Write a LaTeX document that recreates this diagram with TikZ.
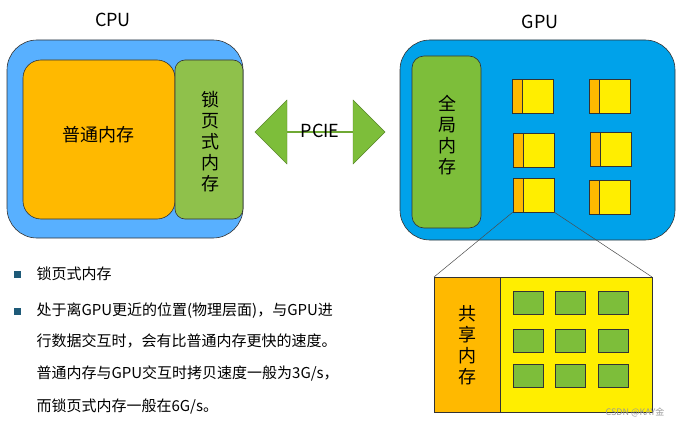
\documentclass[tikz,border=0pt]{standalone}
\usepackage{fontspec}
\setmainfont{Noto Sans CJK SC}
\usetikzlibrary{shapes.arrows}
\definecolor{cpublue}{HTML}{58B0FF}
\definecolor{gpublue}{HTML}{00A2EA}
\definecolor{org}{HTML}{FFB900}
\definecolor{grn}{HTML}{7DBE3A}
\definecolor{lgrn}{HTML}{8FC14B}
\definecolor{yel}{HTML}{FFEE00}
\definecolor{teal}{HTML}{1E5A78}
\begin{document}
\begin{tikzpicture}[x=1pt,y=-1pt,
  box/.style={draw=black!80,line width=0.6pt},
  lbl/.style={font=\fontsize{18}{20}\selectfont},
  vt/.style={font=\fontsize{18}{21}\selectfont,align=center},
  body/.style={anchor=west,font=\fontsize{15}{17}\selectfont},
  bul/.style={fill=teal,minimum size=7pt,inner sep=0pt}]
\useasboundingbox[fill=white] (0,0) rectangle (689,428);
% CPU
\node[lbl] (cpul) at (113,20) {CPU};
\draw[box,fill=cpublue,rounded corners=30pt] (7,40) rectangle (243,238);
\draw[box,fill=org,rounded corners=18pt] (23,60) rectangle (175,219);
\draw[box,fill=lgrn,rounded corners=10pt] (175,60) rectangle (243,219);
\node[lbl] (pm) at (99,135) {普通内存};
\node[vt] (lm) at (210,142) {锁\\页\\式\\内\\存};
% arrow
\node[double arrow,fill=grn,draw=grn!70!black,minimum width=64pt,double arrow head extend=8pt,
  minimum height=130pt,inner sep=0pt] (pcie) at (320,132) {};
\node[lbl] (pl) at (320,131) {PCIE};
% GPU
\node[lbl] (gpul) at (540,22) {GPU};
\draw[box,fill=gpublue,rounded corners=30pt] (400,40) rectangle (675,240);
\draw[box,fill=grn,rounded corners=12pt] (412,56) rectangle (481,228);
\node[vt] (gm) at (447,135) {全\\局\\内\\存};
\foreach \x/\y/\n in {512/79/a,589/79/b,513/133/c,590/132/d,513/178/e,589/180/f}{
  \draw[box,fill=yel] (\x+10,\y) rectangle (\x+41,\y+34);
  \draw[box,fill=org] (\x,\y) rectangle (\x+10,\y+34);
}
\coordinate (e1) at (513,212); \coordinate (e2) at (554,212);
\coordinate (s1) at (434,277); \coordinate (s2) at (652,277);
\draw[black!70,line width=0.5pt] (e1) -- (s1) (e2) -- (s2);
\draw[box,fill=yel] (500,277) rectangle (652,412);
\draw[box,fill=org] (434,277) rectangle (500,412);
\node[vt] (sm) at (467,345) {共\\享\\内\\存};
\foreach \x in {513,555,598}\foreach \y in {291,329,364}
  \draw[box,fill=grn] (\x,\y) rectangle (\x+30,\y+23);
% bullets
\node[bul] (b1) at (17,274) {};
\node[bul] (b2) at (17,311) {};
\node[body] (t1) at (33,274) {锁页式内存};
\node[body] (t2) at (33,311) {处于离GPU更近的位置(物理层面)，与GPU进};
\node[body] (t3) at (33,341) {行数据交互时，会有比普通内存更快的速度。};
\node[body] (t4) at (33,373) {普通内存与GPU交互时拷贝速度一般为3G/s，};
\node[body] (t5) at (33,406) {而锁页式内存一般在6G/s。};
\node[font=\fontsize{9}{10}\selectfont,text=black!40] (wm) at (635,412) {CSDN @KAY金};
\end{tikzpicture}
\end{document}
